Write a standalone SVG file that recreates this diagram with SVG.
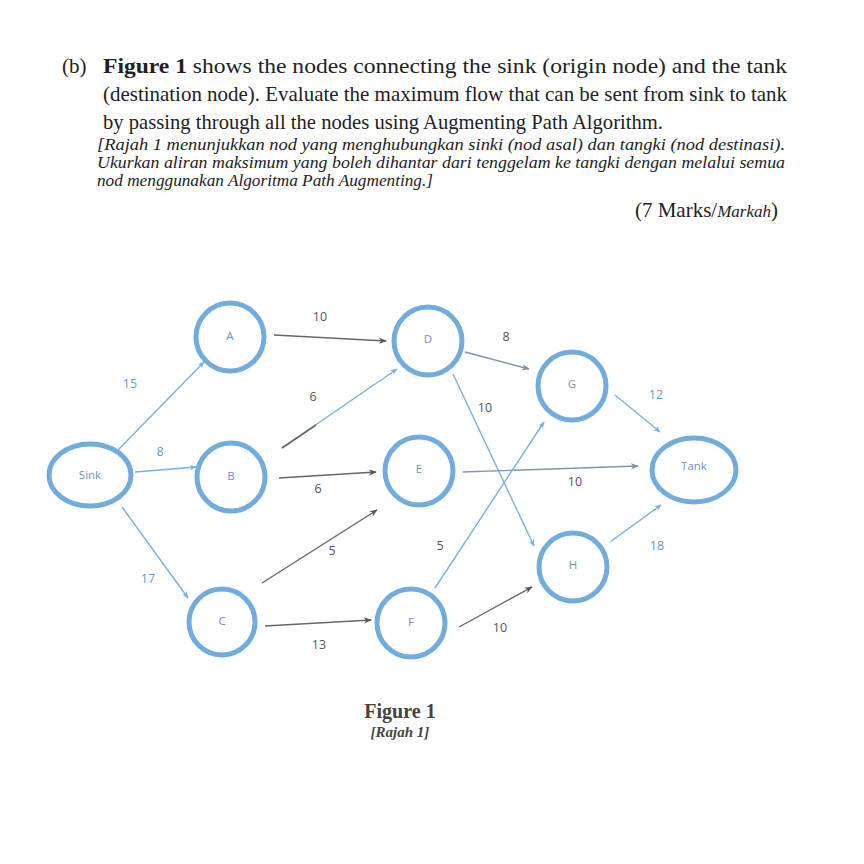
<svg xmlns="http://www.w3.org/2000/svg" width="864" height="864" viewBox="0 0 864 864">
<style>
.q{font-family:"Liberation Serif",serif;font-size:21px;fill:#222}
.qi{font-family:"Liberation Serif",serif;font-size:16px;font-style:italic;fill:#222}
.node{fill:none;stroke:#72acdc;stroke-width:5}
.nt{font-family:"Open Sans","Liberation Sans",sans-serif;font-size:11.5px;fill:#6c93bb;text-anchor:middle;dominant-baseline:central}
.lb{font-family:"Open Sans","Liberation Sans",sans-serif;font-size:12.5px;fill:#555;text-anchor:middle;dominant-baseline:central}
.lbb{fill:#5d9bd3}
.eb{stroke:#79b0de;stroke-width:1.4;fill:none;marker-end:url(#ab)}
.eg{stroke:#666;stroke-width:1.4;fill:none;marker-end:url(#ag)}
.em{stroke:#7f95ac;stroke-width:1.4;fill:none;marker-end:url(#am)}
</style>
<defs>
<marker id="ab" viewBox="0 0 10 10" refX="9" refY="5" markerWidth="7" markerHeight="7" orient="auto" markerUnits="userSpaceOnUse"><path d="M0,1 L10,5 L0,9 L3,5 Z" fill="#79b0de"/></marker>
<marker id="ag" viewBox="0 0 10 10" refX="9" refY="5" markerWidth="8" markerHeight="8" orient="auto" markerUnits="userSpaceOnUse"><path d="M0,1 L10,5 L0,9 L3,5 Z" fill="#555"/></marker>
<marker id="am" viewBox="0 0 10 10" refX="9" refY="5" markerWidth="8" markerHeight="8" orient="auto" markerUnits="userSpaceOnUse"><path d="M0,1 L10,5 L0,9 L3,5 Z" fill="#7f95ac"/></marker>
</defs>
<rect width="864" height="864" fill="#fff"/>
<g id="question">
<text class="q" x="62" y="73">(b)</text>
<text class="q" x="103" y="73" textLength="684" lengthAdjust="spacingAndGlyphs"><tspan font-weight="bold">Figure 1</tspan> shows the nodes connecting the sink (origin node) and the tank</text>
<text class="q" x="103" y="101" textLength="684" lengthAdjust="spacingAndGlyphs">(destination node). Evaluate the maximum flow that can be sent from sink to tank</text>
<text class="q" x="103" y="129" textLength="560" lengthAdjust="spacingAndGlyphs">by passing through all the nodes using Augmenting Path Algorithm.</text>
<text class="qi" x="97" y="150" textLength="688" lengthAdjust="spacingAndGlyphs">[Rajah 1 menunjukkan nod yang menghubungkan sinki (nod asal) dan tangki (nod destinasi).</text>
<text class="qi" x="97" y="168" textLength="688" lengthAdjust="spacingAndGlyphs">Ukurkan aliran maksimum yang boleh dihantar dari tenggelam ke tangki dengan melalui semua</text>
<text class="qi" x="97" y="186" textLength="336" lengthAdjust="spacingAndGlyphs">nod menggunakan Algoritma Path Augmenting.]</text>
<text class="q" x="778" y="217" text-anchor="end">(7 Marks/<tspan font-style="italic" font-size="17">Markah</tspan>)</text>
</g>
<g id="connectors">
<line class="eb" x1="118" y1="450" x2="204" y2="362"/>
<line class="eb" x1="135" y1="472" x2="196" y2="467" stroke="#7a9ab8"/>
<line class="eb" x1="122" y1="507" x2="188" y2="598"/>
<line class="eg" x1="274" y1="335" x2="386" y2="341"/>
<line class="eb" x1="282" y1="448" x2="397" y2="369"/>
<line x1="282" y1="448" x2="316" y2="425" stroke="#666" stroke-width="1.6"/>
<line class="eg" x1="279" y1="478" x2="376" y2="472"/>
<line class="eg" x1="262" y1="583" x2="377" y2="510"/>
<line class="eg" x1="265" y1="626" x2="371" y2="620"/>
<line class="em" x1="465" y1="352" x2="529" y2="369"/>
<line class="eb" x1="453" y1="374" x2="534" y2="546"/>
<line class="em" x1="463" y1="472" x2="638" y2="466"/>
<line class="eb" x1="435" y1="588" x2="544" y2="422"/>
<line class="eg" x1="459" y1="627" x2="532" y2="587"/>
<line class="eb" x1="615" y1="395" x2="660" y2="432"/>
<line class="eb" x1="610" y1="542" x2="661" y2="505"/>
</g>
<g id="edge-labels">
<text class="lb lbb" x="130" y="383">15</text>
<text class="lb lbb" x="160" y="451">8</text>
<text class="lb lbb" x="148" y="578">17</text>
<text class="lb" x="320" y="316">10</text>
<text class="lb" x="313" y="396">6</text>
<text class="lb" x="318" y="488">6</text>
<text class="lb" x="332" y="550">5</text>
<text class="lb" x="319" y="644">13</text>
<text class="lb" x="506" y="336" fill="#6f8399">8</text>
<text class="lb" x="485" y="407">10</text>
<text class="lb" x="575" y="481" fill="#6f8399">10</text>
<text class="lb" x="440" y="545">5</text>
<text class="lb" x="500" y="627">10</text>
<text class="lb lbb" x="656" y="394">12</text>
<text class="lb lbb" x="657" y="545">18</text>
</g>
<g id="node-sink"><ellipse class="node" cx="90" cy="475" rx="41" ry="31"/><text class="nt" x="90" y="474">Sink</text></g>
<g id="node-a"><circle class="node" cx="230" cy="337" r="34"/><text class="nt" x="230" y="335">A</text></g>
<g id="node-b"><circle class="node" cx="231" cy="477" r="34"/><text class="nt" x="231" y="475">B</text></g>
<g id="node-c"><circle class="node" cx="222" cy="622" r="33"/><text class="nt" x="222" y="620">C</text></g>
<g id="node-d"><circle class="node" cx="428" cy="341" r="34"/><text class="nt" x="428" y="338">D</text></g>
<g id="node-e"><circle class="node" cx="419" cy="471" r="34"/><text class="nt" x="419" y="468">E</text></g>
<g id="node-f"><circle class="node" cx="411" cy="623" r="34"/><text class="nt" x="411" y="621">F</text></g>
<g id="node-g"><circle class="node" cx="572" cy="386" r="34"/><text class="nt" x="572" y="383">G</text></g>
<g id="node-h"><circle class="node" cx="573" cy="567" r="34"/><text class="nt" x="573" y="564">H</text></g>
<g id="node-tank"><ellipse class="node" cx="694" cy="470" rx="42" ry="32"/><text class="nt" x="694" y="465">Tank</text></g>
<g id="caption">
<text x="400" y="718" text-anchor="middle" font-family="'Liberation Serif',serif" font-size="20" font-weight="bold" fill="#444">Figure 1</text>
<text x="400" y="737" text-anchor="middle" font-family="'Liberation Serif',serif" font-size="15" font-weight="bold" font-style="italic" fill="#444">[Rajah 1]</text>
</g>
</svg>
